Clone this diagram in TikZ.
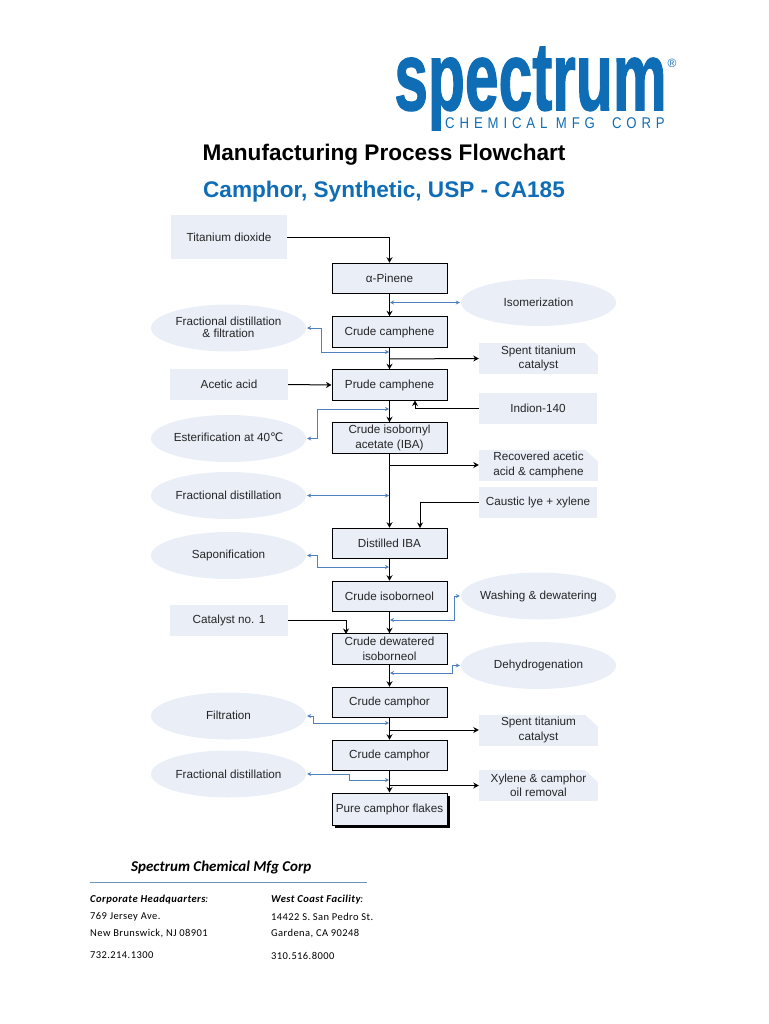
\documentclass[tikz,border=0pt]{standalone}
\usepackage{fontspec}
\setmainfont{Liberation Sans}
\newfontfamily\ftr{Carlito}[LetterSpace=4]
\newfontfamily\ftrhead{Carlito}
\newfontfamily\logosub{Liberation Sans}[LetterSpace=37]
\newfontfamily\logof{Liberation Sans Bold}[FakeBold=1.5]
\newfontfamily\degf{DejaVu Sans}
\usetikzlibrary{arrows.meta,shapes.geometric,shadows}
\definecolor{boxfill}{HTML}{E9EEF7}
\definecolor{logoblue}{HTML}{0F6DB5}
\definecolor{arrowblue}{HTML}{4F81BD}
\definecolor{ftrline}{HTML}{6F93B5}
\definecolor{txt}{HTML}{262626}
\tikzset{
  lbl/.style={font=\fontsize{11.7}{14.5}\selectfont, text=txt, align=center, inner sep=0pt},
  stepbox/.style={lbl, rectangle, draw=black, line width=1pt, fill=boxfill, minimum width=115pt, minimum height=30.5pt},
  feed/.style={lbl, rectangle, fill=boxfill, minimum width=118pt, minimum height=31pt},
  outbox/.style={lbl, rectangle, fill=boxfill, minimum width=119pt, minimum height=31pt,
    path picture={\fill[white] ([xshift=-13pt]path picture bounding box.north east) -- (path picture bounding box.north east) -- ([yshift=-12pt]path picture bounding box.north east) -- cycle;}},
  oper/.style={lbl, ellipse, fill=boxfill, minimum width=155pt, minimum height=47pt},
  mainflow/.style={draw=black, line width=1pt, -{Stealth[length=5.5pt,width=6pt]}},
  bluelink/.style={draw=arrowblue, line width=.9pt, {Stealth[length=4pt,width=4pt]}-{Stealth[length=4pt,width=4pt]}, shorten <=1pt},
  ftxt/.style={font=\ftr\fontsize{10.5}{12}\selectfont, text=black, anchor=west, inner sep=0pt},
  fhead/.style={font=\ftr\fontsize{10.6}{12}\selectfont\bfseries\itshape},
}
\begin{document}
\begin{tikzpicture}[x=1pt,y=-1pt]
\useasboundingbox (0,0) rectangle (768,1024);
% logo
\node[inner sep=0pt, text=logoblue] (logo) at (530.5,88.5) {\scalebox{.605}[.97]{\logof\fontsize{100}{100}\selectfont spectrum}};
\node[inner sep=0pt, text=logoblue] (reg) at (672,63.5) {\fontsize{12}{12}\selectfont ®};
\node[inner sep=0pt, text=logoblue] (sub) at (555,123) {\scalebox{.85}[1]{\logosub\fontsize{15.5}{15.5}\selectfont CHEMICAL MFG\ \ CORP}};
% titles
\node[inner sep=0pt, font=\fontsize{22.6}{24}\selectfont\bfseries] (t1) at (384,155) {Manufacturing Process Flowchart};
\node[inner sep=0pt, text=logoblue, font=\fontsize{22.6}{24}\selectfont\bfseries] (t2) at (384,192) {Camphor, Synthetic, USP - CA185};
% process steps
\node[stepbox] (pinene) at (389.5,278.5) {α-Pinene};
\node[stepbox] (camphene) at (389.5,332) {Crude camphene};
\node[stepbox] (prude) at (389.5,385) {Prude camphene};
\node[stepbox] (iba) at (389.5,438) {Crude isobornyl\\acetate (IBA)};
\node[stepbox] (dist) at (389.5,543.5) {Distilled IBA};
\node[stepbox] (isob) at (389.5,596.5) {Crude isoborneol};
\node[stepbox] (dew) at (389.5,649) {Crude dewatered\\isoborneol};
\node[stepbox] (camph1) at (389.5,702.5) {Crude camphor};
\node[stepbox] (camph2) at (389.5,755.5) {Crude camphor};
\node[stepbox, minimum height=32pt, drop shadow={shadow xshift=3pt, shadow yshift=-2.5pt, fill=black, opacity=1}] (pure) at (389.5,809) {Pure camphor flakes};
% inputs
\node[feed, minimum width=116pt, minimum height=44pt] (tio) at (229,237) {Titanium dioxide};
\node[feed] (acetic) at (229,384.5) {Acetic acid};
\node[feed] (indion) at (538,408.5) {Indion-140};
\node[feed] (caustic) at (538,502.5) {Caustic lye + xylene};
\node[feed] (cat) at (229,620.5) {Catalyst no. 1};
% outputs
\node[outbox] (sp1) at (538.5,358.5) {Spent titanium\\catalyst};
\node[outbox] (rec) at (538.5,465) {Recovered acetic\\acid \& camphene};
\node[outbox] (sp2) at (538.5,730) {Spent titanium\\catalyst};
\node[outbox] (xyl) at (538.5,785.5) {Xylene \& camphor\\oil removal};
% operations
\node[oper] (isom) at (538.5,302.5) {Isomerization};
\node[oper] (fdf) at (228.5,328) {\raisebox{1.5pt}{\shortstack{Fractional distillation\\\& filtration}}};
\node[oper] (est) at (228.5,438.5) {\raisebox{2pt}{Esterification at 40{\degf ℃}}};
\node[oper] (fd1) at (228.5,495.5) {Fractional distillation};
\node[oper] (sap) at (228.5,555.5) {Saponification};
\node[oper, inner xsep=-12pt] (wash) at (538.5,596) {Washing \& dewatering};
\node[oper] (dehy) at (538.5,665.5) {Dehydrogenation};
\node[oper] (filt) at (228.5,716) {\raisebox{1.5pt}{Filtration}};
\node[oper] (fd2) at (228.5,774) {Fractional distillation};
% points on the main line
\coordinate (k1) at (390,302.5);
\coordinate (k2) at (389,352);
\coordinate (k3) at (389.5,359);
\coordinate (k4) at (389,409);
\coordinate (k5) at (389.5,465);
\coordinate (k6) at (389,495.5);
\coordinate (k7) at (389,567);
\coordinate (k8) at (390,620);
\coordinate (k9) at (390,673);
\coordinate (k10) at (389,723);
\coordinate (k11) at (389.5,730);
\coordinate (k12) at (389,780);
\coordinate (k13) at (389.5,785.5);
\coordinate (b1) at (321,352);
\coordinate (b2) at (317,409);
\coordinate (b3) at (317.5,567);
\coordinate (b4) at (454,620);
\coordinate (b5) at (452,673);
\coordinate (b6) at (313,723);
\coordinate (b7) at (349,780);
\coordinate (indt) at (415,400.5);
\coordinate (caut) at (420,528);
\coordinate (catt) at (346,634);
% main flow
\draw[mainflow] (pinene) -- (camphene);
\draw[mainflow] (camphene) -- (prude);
\draw[mainflow] (prude) -- (iba);
\draw[mainflow] (iba) -- (dist);
\draw[mainflow] (dist) -- (isob);
\draw[mainflow] (isob) -- (dew);
\draw[mainflow] (dew) -- (camph1);
\draw[mainflow] (camph1) -- (camph2);
\draw[mainflow] (camph2) -- (pure);
% feeds and removals
\draw[mainflow] (tio.east) -| (pinene.north);
\draw[mainflow] (acetic.east) -- (prude.west);
\draw[mainflow] (indion.west) -| (indt);
\draw[mainflow] (caustic.west) -| (caut);
\draw[mainflow] (cat.east) -| (catt);
\draw[mainflow] (k3) -- (sp1.west);
\draw[mainflow] (k5) -- (rec.west);
\draw[mainflow] (k11) -- (sp2.west);
\draw[mainflow] (k13) -- (xyl.west);
% blue operation links
\draw[bluelink] (isom.west) -- (k1);
\draw[bluelink] (fdf.east) -| (b1) -- (k2);
\draw[bluelink] (est.east) -| (b2) -- (k4);
\draw[bluelink] (fd1.east) -- (k6);
\draw[bluelink] (sap.east) -| (b3) -- (k7);
\draw[bluelink] (wash.west) -| (b4) -- (k8);
\draw[bluelink] (dehy.west) -| (b5) -- (k9);
\draw[bluelink] (filt.east) -| (b6) -- (k10);
\draw[bluelink] (fd2.east) -| (b7) -- (k12);
% footer
\node[inner sep=0pt, anchor=west, font=\ftrhead\fontsize{15}{18}\selectfont\bfseries\itshape] (fh) at (131,867) {Spectrum Chemical Mfg Corp};
\coordinate (fl) at (90,882);
\coordinate (fr) at (367,882);
\draw[ftrline, line width=.9pt] (fl) -- (fr);
\node[ftxt, fhead] (a1) at (90,900) {Corporate Headquarters\textmd{:}};
\node[ftxt] (a2) at (90,916.5) {769 Jersey Ave.};
\node[ftxt] (a3) at (90,933.5) {New Brunswick, NJ 08901};
\node[ftxt] (a4) at (90,955.5) {732.214.1300};
\node[ftxt, fhead] (c1) at (271,900) {West Coast Facility\textmd{:}};
\node[ftxt] (c2) at (271,916.5) {14422 S. San Pedro St.};
\node[ftxt] (c3) at (271,933.5) {Gardena, CA 90248};
\node[ftxt] (c4) at (271,955.5) {310.516.8000};
\end{tikzpicture}
\end{document}
